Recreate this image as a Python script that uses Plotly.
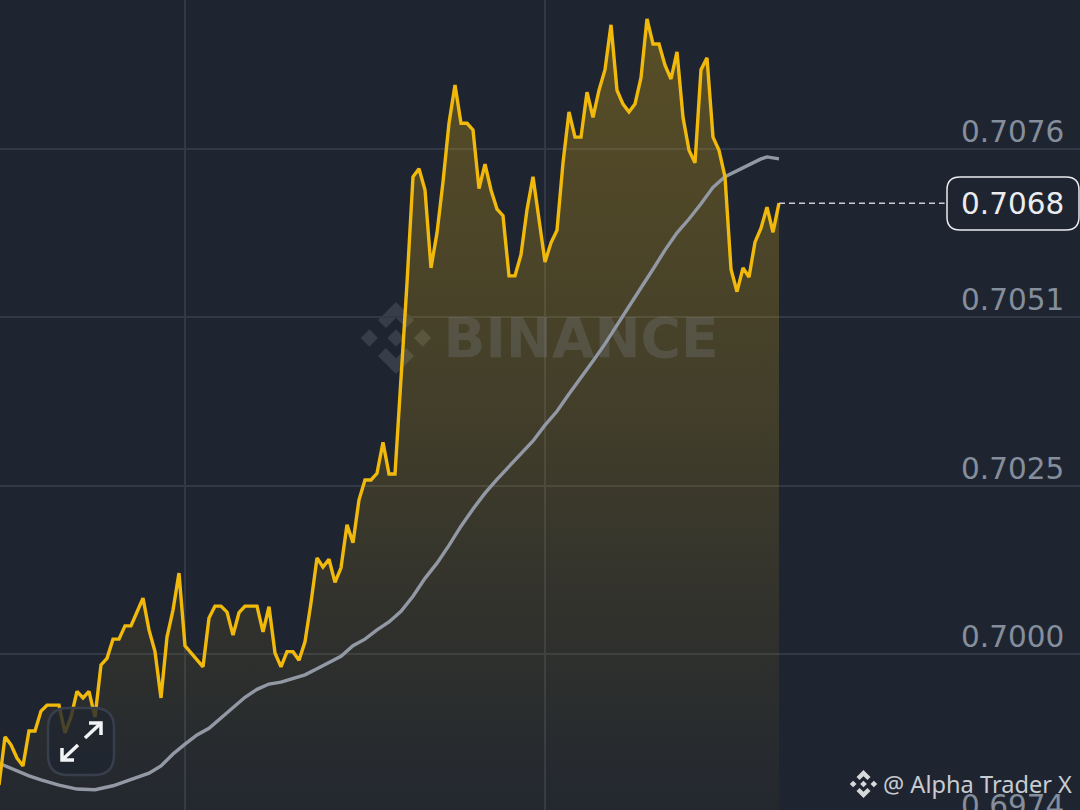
import plotly.graph_objects as go

# price line, one value per sample
prices = [
    0.69797, 0.69870, 0.69858, 0.69838, 0.69826, 0.69879, 0.69879, 0.69909, 0.69918, 0.69918,
    0.69918, 0.69876, 0.69900, 0.69939, 0.69929, 0.69939, 0.69900, 0.69979, 0.69989, 0.70018,
    0.70018, 0.70038, 0.70038, 0.70059, 0.70080, 0.70032, 0.69999, 0.69929, 0.70021, 0.70062,
    0.70118, 0.70008, 0.69997, 0.69988, 0.69976, 0.70050, 0.70068, 0.70068, 0.70059, 0.70024,
    0.70058, 0.70068, 0.70068, 0.70068, 0.70029, 0.70067, 0.69997, 0.69976, 0.69999, 0.69999,
    0.69986, 0.70014, 0.70073, 0.70141, 0.70127, 0.70139, 0.70104, 0.70126, 0.70191, 0.70164,
    0.70229, 0.70259, 0.70259, 0.70269, 0.70316, 0.70268, 0.70268, 0.70406, 0.70557, 0.70718,
    0.70730, 0.70698, 0.70580, 0.70633, 0.70710, 0.70799, 0.70857, 0.70799, 0.70799, 0.70789,
    0.70700, 0.70737, 0.70698, 0.70669, 0.70659, 0.70568, 0.70568, 0.70600, 0.70668, 0.70718,
    0.70653, 0.70589, 0.70618, 0.70637, 0.70739, 0.70816, 0.70778, 0.70778, 0.70846, 0.70808,
    0.70849, 0.70880, 0.70948, 0.70849, 0.70828, 0.70816, 0.70828, 0.70868, 0.70957, 0.70919,
    0.70919, 0.70887, 0.70866, 0.70907, 0.70808, 0.70758, 0.70739, 0.70880, 0.70898, 0.70778,
    0.70758, 0.70718, 0.70578, 0.70544, 0.70580, 0.70566, 0.70619, 0.70640, 0.70672, 0.70634,
    0.70678,
]
samples = list(range(len(prices)))

# moving average, read at the sample numbers in ma_samples
ma_samples = [
    0, 3, 5, 7, 10, 13, 16, 19, 22, 25, 27, 29, 31, 33, 35, 37, 39, 41, 43, 45, 47, 49, 51, 53, 55,
    57, 59, 61, 63, 65, 67, 69, 71, 73, 75, 77, 79, 81, 83, 85, 87, 89, 91, 93, 95, 97, 99, 101,
    103, 105, 107, 109, 111, 113, 115, 117, 119, 121, 123, 125, 127, 128, 129, 130,
]
ma_values = [
    0.69830, 0.69818, 0.69811, 0.69805, 0.69797, 0.69791, 0.69790, 0.69796, 0.69806, 0.69815,
    0.69826, 0.69844, 0.69859, 0.69873, 0.69883, 0.69899, 0.69914, 0.69930, 0.69942, 0.69950,
    0.69953, 0.69959, 0.69964, 0.69973, 0.69982, 0.69992, 0.70008, 0.70018, 0.70032, 0.70044,
    0.70060, 0.70083, 0.70110, 0.70133, 0.70160, 0.70189, 0.70215, 0.70239, 0.70260, 0.70279,
    0.70298, 0.70318, 0.70342, 0.70363, 0.70389, 0.70413, 0.70439, 0.70465, 0.70494, 0.70521,
    0.70550, 0.70578, 0.70607, 0.70633, 0.70654, 0.70677, 0.70702, 0.70718, 0.70727, 0.70736,
    0.70745, 0.70748, 0.70746, 0.70745,
]

y_ticks = [0.70760, 0.70505, 0.70250, 0.69995, 0.69740]
y_labels = ["0.7076", "0.7051", "0.7025", "0.7000", "0.6974"]
x_grid = [31, 91]
last_label = "0.7068"
credit = "@ Alpha Trader X"
watermark = "BINANCE"

BG = "#1f2530"
GRID = "#323845"
YELLOW = "#f0b90b"
GRAY = "#9299a5"
LABEL = "#848e9c"
W, H = 1080, 810
X_RANGE = [1 / 6, 1081 / 6]
Y_RANGE = [0.697593, 0.709856]


def px(x):
    return x / W


def py(y):
    return 1 - y / H


def path(points):
    return "M " + " L ".join(f"{px(x):.5f},{py(y):.5f}" for x, y in points) + " Z"


def open_path(points):
    return "M " + " L ".join(f"{px(x):.5f},{py(y):.5f}" for x, y in points)


def round_rect(x0, y0, x1, y1, r):
    return (
        f"M {px(x0 + r):.5f},{py(y0):.5f} L {px(x1 - r):.5f},{py(y0):.5f} "
        f"Q {px(x1):.5f},{py(y0):.5f} {px(x1):.5f},{py(y0 + r):.5f} "
        f"L {px(x1):.5f},{py(y1 - r):.5f} Q {px(x1):.5f},{py(y1):.5f} {px(x1 - r):.5f},{py(y1):.5f} "
        f"L {px(x0 + r):.5f},{py(y1):.5f} Q {px(x0):.5f},{py(y1):.5f} {px(x0):.5f},{py(y1 - r):.5f} "
        f"L {px(x0):.5f},{py(y0 + r):.5f} Q {px(x0):.5f},{py(y0):.5f} {px(x0 + r):.5f},{py(y0):.5f} Z"
    )


def logo(cx, cy, s, color, layer):
    # binance mark: three small diamonds and two chevrons
    out = []
    polys = []
    for dx in (-0.74, 0, 0.74):
        polys.append([(dx, -0.24), (dx + 0.24, 0), (dx, 0.24), (dx - 0.24, 0)])
    for sign in (-1, 1):
        polys.append([(-0.5, sign * 0.5), (0, sign * 1), (0.5, sign * 0.5), (0.28, sign * 0.28),
                      (0, sign * 0.56), (-0.28, sign * 0.28)])
    for poly in polys:
        pts = [(cx + a * s, cy + b * s) for a, b in poly]
        out.append(dict(type="path", xref="paper", yref="paper", path=path(pts),
                        fillcolor=color, line=dict(width=0), layer=layer))
    return out


fig = go.Figure()

# area under the price, no outline
fig.add_trace(go.Scatter(
    x=samples, y=prices, mode="none", fill="tozeroy", hoverinfo="skip",
    fillgradient=dict(
        type="vertical", start=Y_RANGE[1], stop=Y_RANGE[0],
        colorscale=[[0, "rgba(240,185,11,0.28)"], [0.5, "rgba(240,185,11,0.17)"],
                    [0.78, "rgba(240,185,11,0.08)"], [1, "rgba(240,185,11,0.02)"]],
    ),
))
fig.add_trace(go.Scatter(
    x=[97], y=[0.70466], mode="text", text=[watermark], hoverinfo="skip",
    textfont=dict(family="DejaVu Sans", size=55, weight="bold", color="rgba(132,142,156,0.24)"),
))
fig.add_trace(go.Scatter(x=ma_samples, y=ma_values, mode="lines", line=dict(color=GRAY, width=3.4)))
fig.add_trace(go.Scatter(x=samples, y=prices, mode="lines", line=dict(color=YELLOW, width=3.4)))
fig.add_trace(go.Scatter(
    x=[samples[-1], 157.6], y=[prices[-1], prices[-1]], mode="lines",
    line=dict(color="#c9cdd3", width=1.5, dash="6px,4px"),
))

shapes = logo(396, 338, 36, "rgba(132,142,156,0.24)", "between")
shapes += logo(863.5, 784, 14, "#d6d8dc", "above")
# price tag
shapes.append(dict(type="path", xref="paper", yref="paper", path=round_rect(947, 177, 1079, 230, 13),
                   fillcolor=BG, line=dict(color="#eaecef", width=1.5), layer="above"))
# expand button
shapes.append(dict(type="path", xref="paper", yref="paper", path=round_rect(48, 708, 114, 775, 20),
                   fillcolor="rgba(31,37,48,0.8)", line=dict(color="#383f4c", width=2.5), layer="above"))
for arrow in ([(78, 745), (62, 760)], [(62, 748), (62, 760), (74, 760)],
              [(85, 738), (101, 723)], [(89, 723), (101, 723), (101, 735)]):
    shapes.append(dict(type="path", xref="paper", yref="paper", path=open_path(arrow),
                       line=dict(color="#f2f3f5", width=3.5), layer="above"))

annotations = []
for tick, label in zip(y_ticks, y_labels):
    # paper coordinates so the lowest label, below the axis range, still shows
    annotations.append(dict(
        x=px(1065), xref="paper", y=(tick - Y_RANGE[0]) / (Y_RANGE[1] - Y_RANGE[0]), yref="paper",
        text=label, showarrow=False, xanchor="right", yanchor="bottom", yshift=-1, borderpad=0,
        font=dict(family="DejaVu Sans", size=29.5, color=LABEL),
    ))
annotations.append(dict(
    x=px(1065), xref="paper", y=py(204), yref="paper", text=last_label, showarrow=False,
    xanchor="right", yanchor="middle", borderpad=0,
    font=dict(family="DejaVu Sans", size=29.5, color="#eaecef"),
))
annotations.append(dict(
    x=px(1073), xref="paper", y=py(784), yref="paper", text=credit, showarrow=False,
    xanchor="right", yanchor="middle", borderpad=0, font=dict(family="Noto Sans", size=23.6, color="#c8cbd0"),
))

fig.update_layout(
    width=W, height=H, margin=dict(l=0, r=0, t=0, b=0),
    paper_bgcolor=BG, plot_bgcolor=BG, showlegend=False,
    shapes=shapes, annotations=annotations,
    xaxis=dict(range=X_RANGE, tickvals=x_grid, showticklabels=False, showgrid=True, gridcolor=GRID,
               gridwidth=1.5, zeroline=False, showline=False, fixedrange=True),
    yaxis=dict(range=Y_RANGE, tickvals=y_ticks, showticklabels=False, showgrid=True, gridcolor=GRID,
               gridwidth=1.5, zeroline=False, showline=False, fixedrange=True),
)

fig.write_html("out.html", config=dict(displayModeBar=False),
               post_script="document.body.style.margin='0';document.body.style.background='#1f2530';")
